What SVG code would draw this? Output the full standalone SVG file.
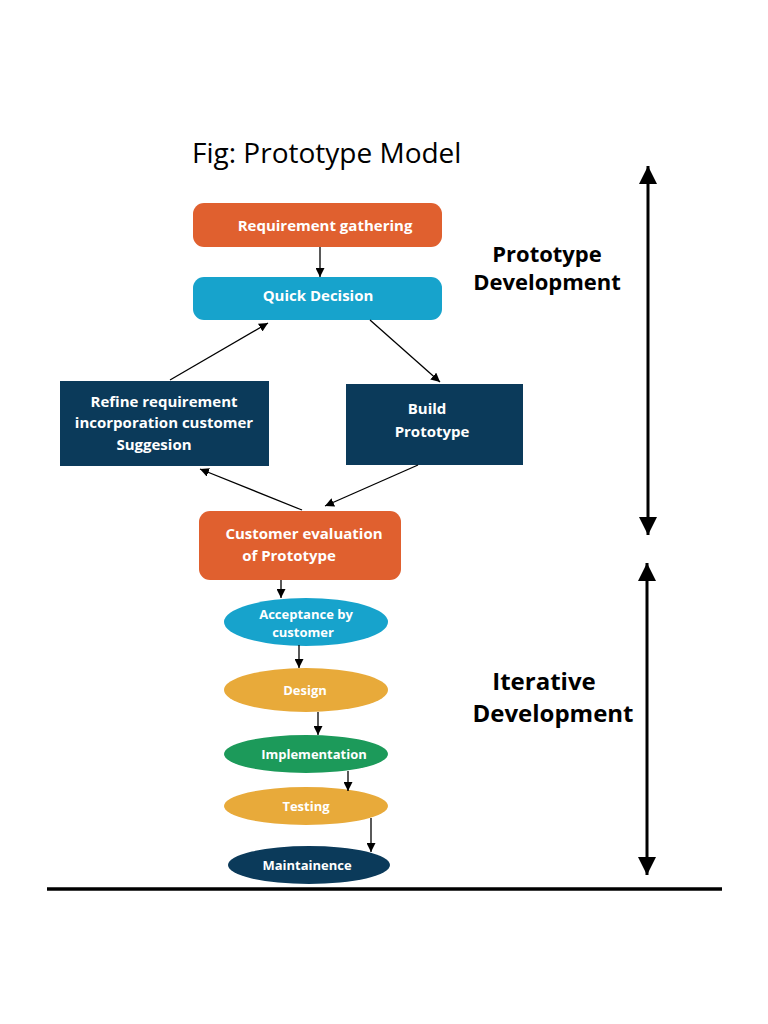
<svg xmlns="http://www.w3.org/2000/svg" width="768" height="1024" viewBox="0 0 768 1024">
<style>
text{font-family:"Open Sans","Liberation Sans",sans-serif;font-weight:bold;fill:#fff;text-anchor:middle}
.n{font-size:15px}
.s{font-size:13px}
.lab{fill:#000;font-size:22px}
.c line{stroke:#000;stroke-width:1.3;marker-end:url(#a)}
.d line{stroke:#000;stroke-width:3;marker-end:url(#b);marker-start:url(#b)}
</style>
<defs>
<marker id="a" viewBox="0 0 10 10" refX="10" refY="5" markerWidth="9" markerHeight="9" markerUnits="userSpaceOnUse" orient="auto"><path d="M0,0L10,5L0,10z" fill="#000"/></marker>
<marker id="b" viewBox="0 0 10 10" refX="10" refY="5" markerWidth="6" markerHeight="6" orient="auto-start-reverse"><path d="M0,0L10,5L0,10z" fill="#000"/></marker>
</defs>
<rect width="768" height="1024" fill="#fff"/>
<text x="192" y="163" style="fill:#000;font-size:28px;font-weight:normal;text-anchor:start">Fig:  Prototype Model</text>
<g id="req"><rect x="193" y="203" width="249" height="44" rx="11" fill="#e0602f"/><text class="n" x="325" y="231">Requirement gathering</text></g>
<g id="quick"><rect x="193" y="277" width="249" height="43" rx="11" fill="#17a3cc"/><text class="n" x="318" y="301">Quick Decision</text></g>
<g id="refine"><rect x="60" y="381" width="209" height="85" fill="#0b3a5a"/><text class="n" x="164" y="407">Refine requirement</text><text class="n" x="164" y="428">incorporation customer</text><text class="n" x="154" y="450">Suggesion</text></g>
<g id="build"><rect x="346" y="384" width="177" height="81" fill="#0b3a5a"/><text class="n" x="427" y="414">Build</text><text class="n" x="432" y="437">Prototype</text></g>
<g id="eval"><rect x="199" y="511" width="202" height="69" rx="11" fill="#e0602f"/><text class="n" x="304" y="539">Customer evaluation</text><text class="n" x="289" y="561">of Prototype</text></g>
<g id="accept"><ellipse cx="306" cy="622" rx="82" ry="24" fill="#17a3cc"/><text class="s" x="306" y="619">Acceptance by</text><text class="s" x="303" y="637">customer</text></g>
<g id="design"><ellipse cx="306" cy="690" rx="82" ry="22" fill="#e8aa3a"/><text class="s" x="305" y="695">Design</text></g>
<g id="impl"><ellipse cx="306" cy="754" rx="82" ry="19" fill="#1c9a5a"/><text class="s" x="314" y="759">Implementation</text></g>
<g id="test"><ellipse cx="306" cy="806" rx="82" ry="19" fill="#e8aa3a"/><text class="s" x="306" y="811">Testing</text></g>
<g id="maint"><ellipse cx="309" cy="865" rx="81" ry="19" fill="#0b3a5a"/><text class="s" x="307" y="870">Maintainence</text></g>
<g class="c">
<line x1="320" y1="247" x2="320" y2="277"/>
<line x1="370" y1="320" x2="440" y2="382"/>
<line x1="170" y1="380" x2="268" y2="323"/>
<line x1="418" y1="465" x2="325" y2="506"/>
<line x1="302" y1="510" x2="200" y2="469"/>
<line x1="281" y1="580" x2="281" y2="598"/>
<line x1="299" y1="645" x2="299" y2="668"/>
<line x1="318" y1="712" x2="318" y2="735"/>
<line x1="348" y1="771" x2="348" y2="791"/>
<line x1="371" y1="818" x2="371" y2="852"/>
</g>
<g class="d">
<line x1="648" y1="166" x2="648" y2="535"/>
<line x1="647" y1="563" x2="647" y2="875"/>
</g>
<text class="lab" x="547" y="262">Prototype</text>
<text class="lab" x="547" y="290">Development</text>
<text class="lab" x="544" y="690" style="font-size:24px">Iterative</text>
<text class="lab" x="553" y="722" style="font-size:24px">Development</text>
<line x1="47" y1="889" x2="722" y2="889" stroke="#000" stroke-width="3.5"/>
</svg>
